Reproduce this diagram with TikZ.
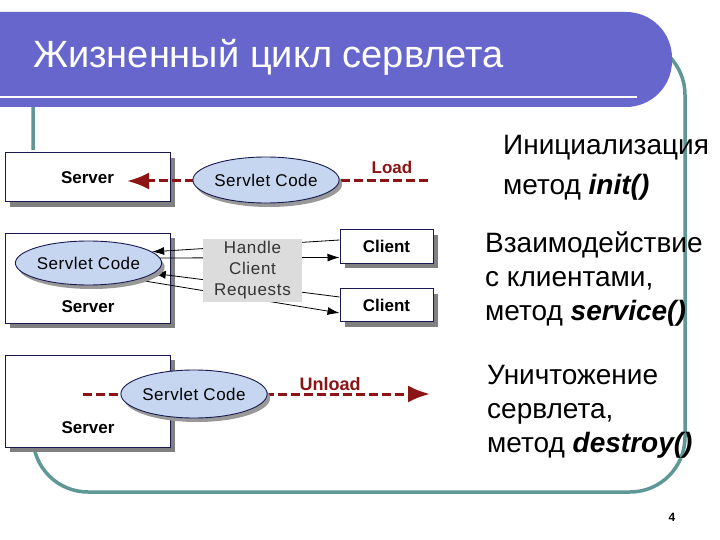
\documentclass[tikz,border=0pt]{standalone}
\usepackage{fontspec}
\setmainfont{Liberation Sans}
\usetikzlibrary{shapes.geometric,arrows.meta,shadows}
\definecolor{titlebar}{RGB}{102,102,204}
\definecolor{frameteal}{RGB}{95,150,150}
\definecolor{darkred}{RGB}{140,20,20}
\definecolor{navyb}{RGB}{25,25,80}
\definecolor{ellfill}{RGB}{198,214,240}
\definecolor{handlegray}{RGB}{220,220,220}
\pgfdeclarelayer{bg}
\pgfdeclarelayer{lines}
\pgfdeclarelayer{front}
\pgfsetlayers{bg,main,lines,front}
\tikzset{
  boxshadow/.style={drop shadow={shadow xshift=5pt,shadow yshift=-5pt,fill=black!50,opacity=1}},
  srvbox/.style={draw=navyb, fill=white, line width=1pt, inner sep=0pt, boxshadow,
     font=\fontsize{17}{19}\selectfont\bfseries},
  servlet/.style={ellipse, draw=navyb, fill=ellfill, line width=0.9pt, inner sep=0pt,
     minimum width=138pt, minimum height=46pt,
     drop shadow={shadow xshift=3pt,shadow yshift=-4pt,fill=black!40,opacity=1},
     font=\fontsize{17}{19}\selectfont\addfontfeatures{LetterSpace=3}},
  lbl/.style={inner sep=0pt, font=\fontsize{17}{19}\selectfont\bfseries},
  redlbl/.style={inner sep=0pt, text=darkred, font=\fontsize{17}{19}\selectfont\bfseries},
  redline/.style={draw=darkred, line width=3pt, dash pattern=on 9pt off 4pt},
  redtip/.style={-{Latex[length=22pt,width=17pt]}},
  blkline/.style={draw=black, line width=0.8pt, -{Latex[length=12pt,width=8pt]}},
  bodytxt/.style={anchor=base west, inner sep=0pt, font=\fontsize{28}{32}\selectfont},
}
\begin{document}
\begin{tikzpicture}[x=1pt,y=-1pt]
\useasboundingbox (0,0) rectangle (720,540);
\begin{pgfonlayer}{bg}
\fill[white] (0,0) rectangle (720,540);
% frame
\draw[frameteal, line width=3.5pt, rounded corners=55pt] (33,40) rectangle (685,492);
% title bar
\fill[titlebar, rounded corners=46pt] (-80,12) rectangle (672,107);
\draw[white, line width=2.5pt] (0,97) -- (637,97);
% image area
\fill[white] (0,150) rectangle (460,452);
\end{pgfonlayer}

\node[anchor=base west, inner sep=0pt, text=white, font=\fontsize{38}{44}\selectfont] (title) at (33,68) {Жизненный цикл сервлета};

% ---------- Load ----------
\node[srvbox, minimum width=165pt, minimum height=49pt] (srv1) at (87.5,177.5) {Server};
\coordinate (loadsrc) at (428,181);
\coordinate (loadtip) at (127,181);
\begin{pgfonlayer}{front}
\node[servlet] (sc1) at (266,180) {Servlet Code};
\end{pgfonlayer}
\begin{pgfonlayer}{lines}
\draw[redline, redtip] (loadsrc) -- (loadtip);
\end{pgfonlayer}
\node[redlbl] (load) at (392,167) {Load};

% ---------- Service ----------
\node[srvbox, minimum width=165pt, minimum height=90pt] (srv2) at (87.5,278) {};
\node[lbl] (srv2t) at (88,307) {Server};
\node[srvbox, minimum width=93pt, minimum height=33pt] (cl1) at (386.5,246.5) {Client};
\node[srvbox, minimum width=93pt, minimum height=33pt] (cl2) at (386.5,305) {Client};
\begin{pgfonlayer}{front}
\node[servlet, minimum width=137pt, minimum height=44pt] (sc2) at (88.5,263) {Servlet Code};
\node[fill=handlegray, minimum width=99pt, minimum height=63pt, inner sep=0pt, align=center,
      text=black!80, font=\fontsize{17}{21}\selectfont\addfontfeatures{LetterSpace=4}] (handle) at (252.5,270.5)
      {Handle\\Client\\Requests};
\end{pgfonlayer}
\begin{pgfonlayer}{lines}
\draw[blkline] ([yshift=6.5pt]cl1.west) -- (sc2.10);
\draw[blkline] (sc2.4) -- ([yshift=-11pt]cl1.west);
\draw[blkline] ([yshift=8pt]cl2.west) -- (sc2.-9);
\draw[blkline] (sc2.-19) -- ([yshift=-8pt]cl2.west);
\end{pgfonlayer}

% ---------- Unload ----------
\node[srvbox, minimum width=165pt, minimum height=92pt] (srv3) at (87.5,401) {};
\node[lbl] (srv3t) at (88,428) {Server};
\coordinate (unsrc) at (83,394);
\coordinate (untip) at (430,394);
\begin{pgfonlayer}{front}
\node[servlet, minimum height=48pt] (sc3) at (194,394) {Servlet Code};
\end{pgfonlayer}
\begin{pgfonlayer}{lines}
\draw[redline, redtip] (unsrc) -- (untip);
\end{pgfonlayer}
\node[redlbl, font=\fontsize{18}{20}\selectfont\bfseries] (unload) at (330,384) {Unload};

% ---------- right texts ----------
\node[bodytxt] (t1a) at (503,155) {Инициализация};
\node[bodytxt] (t1b) at (503,195) {метод \textbf{\textit{init()}}};
\node[bodytxt] (t2a) at (485,252) {Взаимодействие};
\node[bodytxt] (t2b) at (485,286) {с клиентами,};
\node[bodytxt] (t2c) at (485,320) {метод \textbf{\textit{service()}}};
\node[bodytxt] (t3a) at (487,384) {Уничтожение};
\node[bodytxt] (t3b) at (487,418) {сервлета,};
\node[bodytxt] (t3c) at (487,452) {метод \textbf{\textit{destroy()}}};

\node[inner sep=0pt, font=\fontsize{12}{14}\selectfont\bfseries] (pg) at (672,517) {4};
\end{tikzpicture}
\end{document}
